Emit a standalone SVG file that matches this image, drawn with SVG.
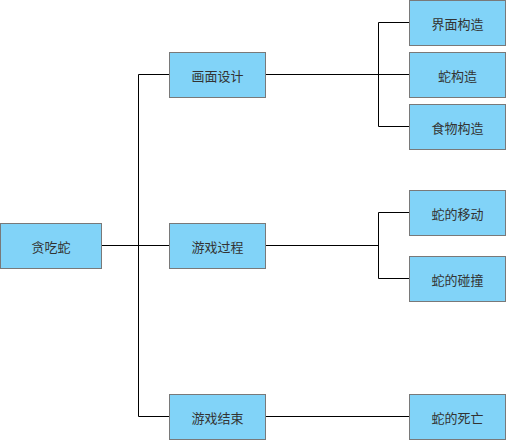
<svg xmlns="http://www.w3.org/2000/svg" width="510" height="440" viewBox="0 0 510 440">
<style>
.n rect{fill:#81D3F8;stroke:#797979;stroke-width:1}
.n text{font-family:"Noto Sans CJK SC","Microsoft YaHei",sans-serif;font-size:13px;fill:#333333;text-anchor:middle;dominant-baseline:central}
#edges path{fill:none;stroke:#000000;stroke-width:1}
</style>
<rect width="510" height="440" fill="#ffffff"/>
<g id="edges">
<path d="M101.5 245.5H169.5"/>
<path d="M138.5 74.5V416.5"/>
<path d="M138.5 74.5H169.5"/>
<path d="M138.5 416.5H169.5"/>
<path d="M265.5 74.5H409.5"/>
<path d="M378.5 22.5V126.5"/>
<path d="M378.5 22.5H409.5"/>
<path d="M378.5 126.5H409.5"/>
<path d="M265.5 245.5H378.5"/>
<path d="M378.5 212.5V278.5"/>
<path d="M378.5 212.5H409.5"/>
<path d="M378.5 278.5H409.5"/>
<path d="M265.5 416.5H409.5"/>
</g>
<g id="root" class="n"><rect x="0.5" y="223.5" width="101" height="45"/><text x="51" y="246">贪吃蛇</text></g>
<g id="n1" class="n"><rect x="169.5" y="52.5" width="96" height="45"/><text x="217.5" y="75">画面设计</text></g>
<g id="n2" class="n"><rect x="169.5" y="223.5" width="96" height="45"/><text x="217.5" y="246">游戏过程</text></g>
<g id="n3" class="n"><rect x="169.5" y="394.5" width="96" height="45"/><text x="217.5" y="417">游戏结束</text></g>
<g id="n11" class="n"><rect x="409.5" y="0.5" width="96" height="45"/><text x="457.5" y="23">界面构造</text></g>
<g id="n12" class="n"><rect x="409.5" y="52.5" width="96" height="45"/><text x="457.5" y="75">蛇构造</text></g>
<g id="n13" class="n"><rect x="409.5" y="104.5" width="96" height="45"/><text x="457.5" y="127">食物构造</text></g>
<g id="n21" class="n"><rect x="409.5" y="190.5" width="96" height="45"/><text x="457.5" y="213">蛇的移动</text></g>
<g id="n22" class="n"><rect x="409.5" y="256.5" width="96" height="45"/><text x="457.5" y="279">蛇的碰撞</text></g>
<g id="n31" class="n"><rect x="409.5" y="394.5" width="96" height="45"/><text x="457.5" y="417">蛇的死亡</text></g>
</svg>
